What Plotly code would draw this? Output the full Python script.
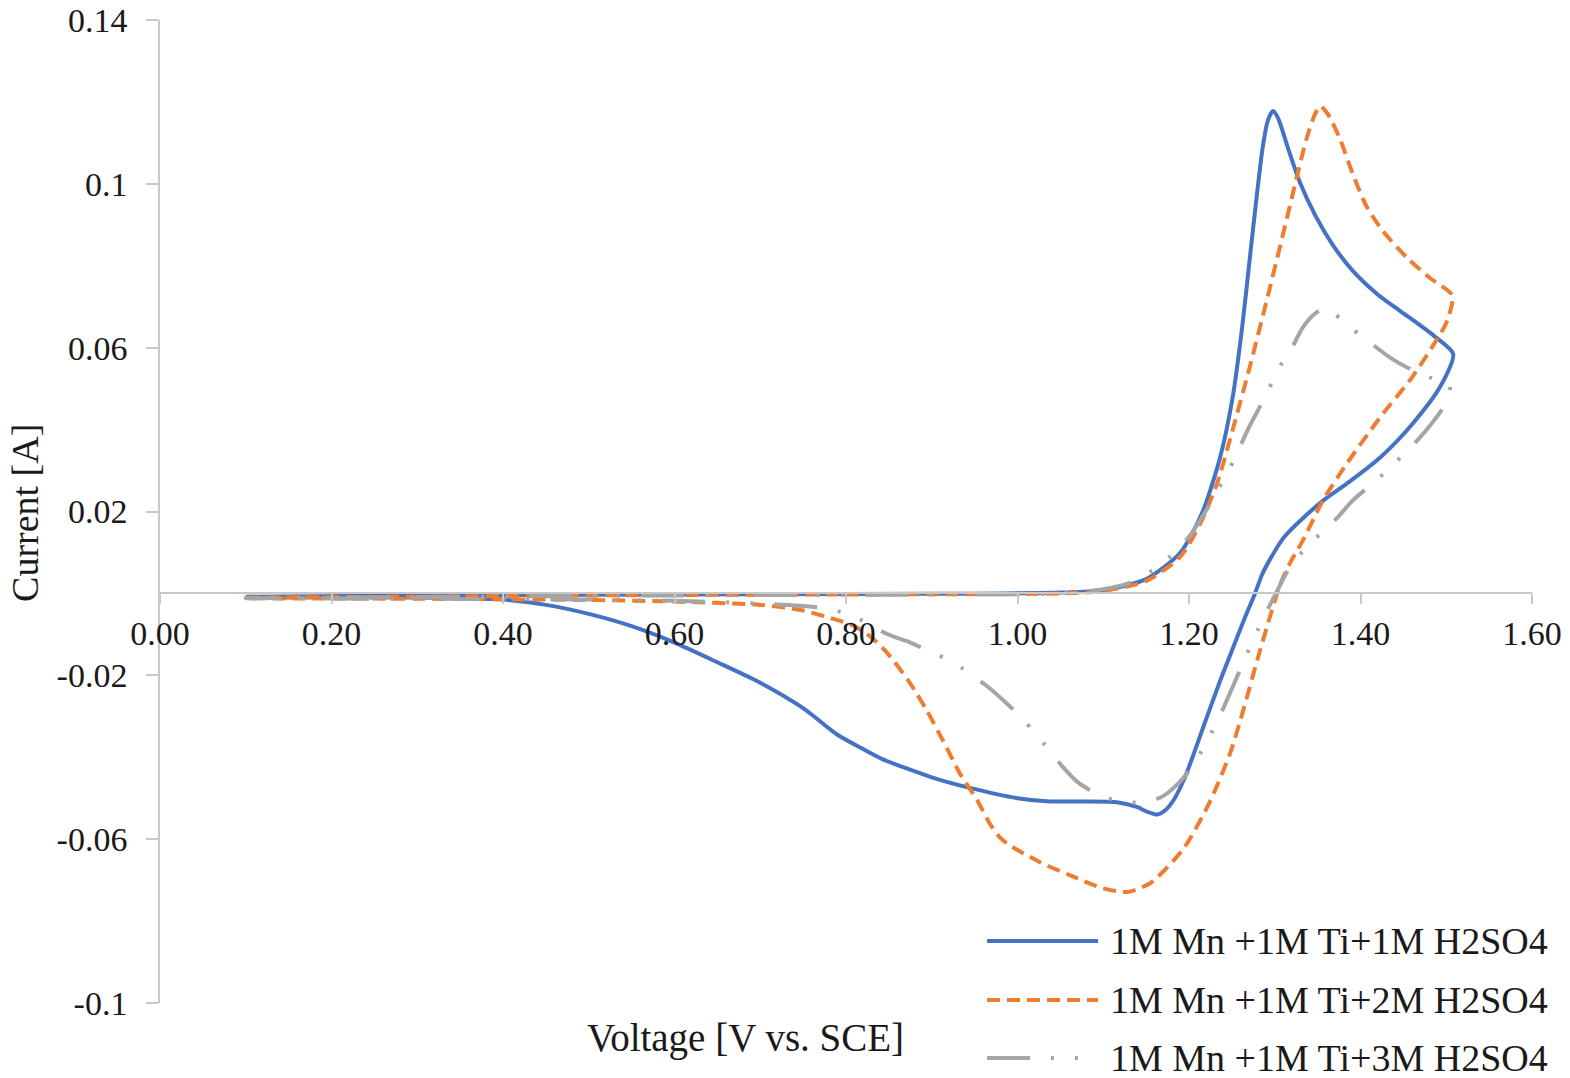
import plotly.graph_objects as go

# ---------------- data ----------------
# 1M Mn + 1M Ti + 1M H2SO4  (forward sweep then reverse sweep)
mn1_v = [0.10, 0.30, 0.50, 0.70, 0.90, 1.05, 1.10, 1.15, 1.19, 1.216, 1.236, 1.251, 1.262,
         1.271, 1.279, 1.286, 1.292, 1.298, 1.304, 1.315, 1.329, 1.348, 1.368, 1.390, 1.420,
         1.446, 1.485, 1.508,
         1.493, 1.461, 1.423, 1.384, 1.356, 1.326, 1.310, 1.295, 1.285, 1.277, 1.265, 1.250,
         1.236, 1.216, 1.205, 1.195, 1.182, 1.173, 1.163, 1.150, 1.140, 1.116, 1.080, 1.038,
         1.000, 0.941, 0.900, 0.843, 0.820, 0.790, 0.750, 0.700, 0.650, 0.600, 0.550, 0.500,
         0.450, 0.400, 0.300, 0.100]
mn1_i = [-0.0008, -0.0005, -0.0003, -0.0002, -0.0001, 0.0002, 0.0008, 0.0035, 0.0100, 0.0200,
         0.0330, 0.0480, 0.0650, 0.0820, 0.0970, 0.1090, 0.1155, 0.1178, 0.1160, 0.1090, 0.1005,
         0.0920, 0.0850, 0.0790, 0.0730, 0.0690, 0.0630, 0.0585,
         0.0505, 0.0415, 0.0332, 0.0268, 0.0226, 0.0170, 0.0135, 0.0085, 0.0045, 0.0000,
         -0.0060, -0.0140, -0.0215, -0.0330, -0.0395, -0.0450, -0.0505, -0.0528, -0.0540,
         -0.0532, -0.0522, -0.0510, -0.0508, -0.0508, -0.0500, -0.0473, -0.0449, -0.0405,
         -0.0380, -0.0345, -0.0280, -0.0218, -0.0168, -0.0120, -0.0080, -0.0050, -0.0028,
         -0.0015, -0.0010, -0.0010]

# 1M Mn + 1M Ti + 2M H2SO4
mn2_v = [0.10, 0.30, 0.50, 0.70, 0.90, 1.05, 1.10, 1.15, 1.19, 1.213, 1.233, 1.251, 1.271,
         1.290, 1.310, 1.325, 1.337, 1.347, 1.353, 1.362, 1.376, 1.391, 1.407, 1.426, 1.454,
         1.481, 1.507,
         1.500, 1.489, 1.461, 1.423, 1.384, 1.356, 1.333, 1.318, 1.306, 1.294, 1.280, 1.264,
         1.248, 1.224, 1.193, 1.155, 1.128, 1.100, 1.061, 1.026, 0.991, 0.980, 0.968, 0.953,
         0.933, 0.913, 0.894, 0.875, 0.850, 0.830, 0.810, 0.785, 0.746, 0.700, 0.600, 0.500,
         0.300, 0.100]
mn2_i = [-0.0010, -0.0008, -0.0005, -0.0003, -0.0002, 0.0000, 0.0006, 0.0030, 0.0090, 0.0170,
         0.0270, 0.0400, 0.0554, 0.0710, 0.0880, 0.1010, 0.1110, 0.1170, 0.1190, 0.1170, 0.1110,
         0.1024, 0.0945, 0.0885, 0.0820, 0.0770, 0.0727,
         0.0660, 0.0620, 0.0530, 0.0430, 0.0317, 0.0226, 0.0130, 0.0075, 0.0020, -0.0060,
         -0.0160, -0.0280, -0.0390, -0.0510, -0.0625, -0.0707, -0.0729, -0.0720, -0.0688,
         -0.0656, -0.0615, -0.0597, -0.0563, -0.0505, -0.0440, -0.0359, -0.0285, -0.0220,
         -0.0150, -0.0108, -0.0080, -0.0062, -0.0040, -0.0028, -0.0020, -0.0016, -0.0013,
         -0.0012]

# 1M Mn + 1M Ti + 3M H2SO4
mn3_v = [0.10, 0.30, 0.50, 0.70, 0.90, 1.05, 1.10, 1.13, 1.166, 1.201, 1.222, 1.248, 1.271,
         1.285, 1.306, 1.320, 1.333, 1.345, 1.358, 1.370, 1.391, 1.414, 1.435, 1.458, 1.480,
         1.504,
         1.499, 1.483, 1.466, 1.431, 1.411, 1.391, 1.373, 1.338, 1.318, 1.305, 1.294, 1.280,
         1.262, 1.240, 1.220, 1.203, 1.187, 1.168, 1.145, 1.120, 1.096, 1.072, 1.053, 1.023,
         1.003, 0.984, 0.966, 0.925, 0.900, 0.875, 0.849, 0.805, 0.770, 0.700, 0.600, 0.500,
         0.300, 0.100]
mn3_i = [-0.0012, -0.0009, -0.0006, -0.0004, -0.0003, 0.0000, 0.0010, 0.0025, 0.0068, 0.0141,
         0.0210, 0.0308, 0.0410, 0.0465, 0.0554, 0.0600, 0.0650, 0.0680, 0.0697, 0.0682, 0.0645,
         0.0608, 0.0575, 0.0548, 0.0528, 0.0508,
         0.0463, 0.0415, 0.0373, 0.0300, 0.0263, 0.0227, 0.0185, 0.0115, 0.0066, 0.0015,
         -0.0030, -0.0090, -0.0175, -0.0280, -0.0365, -0.0425, -0.0465, -0.0497, -0.0510,
         -0.0508, -0.0493, -0.0464, -0.0424, -0.0347, -0.0300, -0.0262, -0.0229, -0.0168,
         -0.0144, -0.0120, -0.0100, -0.0052, -0.0035, -0.0025, -0.0018, -0.0015, -0.0013,
         -0.0012]

series_names = ["1M Mn +1M Ti+1M H2SO4", "1M Mn +1M Ti+2M H2SO4", "1M Mn +1M Ti+3M H2SO4"]

x_tick_vals = [0.0, 0.2, 0.4, 0.6, 0.8, 1.0, 1.2, 1.4, 1.6]
x_tick_text = ["0.00", "0.20", "0.40", "0.60", "0.80", "1.00", "1.20", "1.40", "1.60"]
y_tick_vals = [0.14, 0.10, 0.06, 0.02, -0.02, -0.06, -0.10]
y_tick_text = ["0.14", "0.1", "0.06", "0.02", "-0.02", "-0.06", "-0.1"]

x_title = "Voltage [V vs. SCE]"
y_title = "Current [A]"

# ---------------- styling ----------------
FONT = "Liberation Serif, Times New Roman, serif"
TXT = "#1a1a1a"
AXIS = "#c8c8c8"
colors = ["#4472C4", "#ED7D31", "#A5A5A5"]
dashes = ["solid", "13px,7px", "43px,21px,3px,21px,3px,21px"]

fig = go.Figure()
for v, i, name, c, d in zip([mn1_v, mn2_v, mn3_v], [mn1_i, mn2_i, mn3_i],
                            series_names, colors, dashes):
    fig.add_trace(go.Scatter(x=v, y=i, mode="lines", name=name,
                             line=dict(color=c, width=4, dash=d, shape="spline", smoothing=0.7),
                             showlegend=False))

y_min, y_max = -0.10, 0.14
fig.update_layout(
    width=1570, height=1078,
    margin=dict(l=160, r=38, t=20, b=75),
    paper_bgcolor="white", plot_bgcolor="white",
    font=dict(family=FONT, color=TXT, size=34),
    xaxis=dict(range=[0, 1.6], tickvals=x_tick_vals, ticktext=x_tick_text,
               showgrid=False, zeroline=False, showline=True, linecolor=AXIS, linewidth=1.5,
               ticks="outside", ticklen=10, tickcolor=AXIS, tickwidth=1.5,
               anchor="free", position=(0 - y_min) / (y_max - y_min), automargin=False,
               tickfont=dict(size=34, family=FONT, color=TXT)),
    yaxis=dict(range=[y_min, y_max], tickvals=y_tick_vals, ticktext=y_tick_text,
               showgrid=False, zeroline=False, showline=True, linecolor=AXIS, linewidth=1.5,
               ticks="outside", ticklen=12, tickcolor=AXIS, tickwidth=1.5,
               ticklabelstandoff=12, automargin=False,
               tickfont=dict(size=34, family=FONT, color=TXT)),
    showlegend=False,
)

# axis titles
fig.add_annotation(text=x_title, xref="paper", yref="paper", x=0.4265, y=-0.0356,
                   xanchor="center", yanchor="middle", showarrow=False,
                   font=dict(size=39, family=FONT, color=TXT))
fig.add_annotation(text=y_title, xref="paper", yref="paper", x=-0.0984, y=0.4985,
                   xanchor="center", yanchor="middle", showarrow=False, textangle=-90,
                   font=dict(size=38, family=FONT, color=TXT))

# legend (bottom right, long line samples as in the reference)
legend_rows_y = [0.0631, 0.0031, -0.056]
for name, c, d, ly in zip(series_names, colors, dashes, legend_rows_y):
    fig.add_shape(type="line", xref="paper", yref="paper", x0=0.6028, x1=0.6837, y0=ly, y1=ly,
                  line=dict(color=c, width=4, dash=d))
    fig.add_annotation(text=name, xref="paper", yref="paper", x=0.691, y=ly,
                       xanchor="left", yanchor="middle", showarrow=False,
                       font=dict(size=38, family=FONT, color=TXT))

fig.write_html("out.html")
